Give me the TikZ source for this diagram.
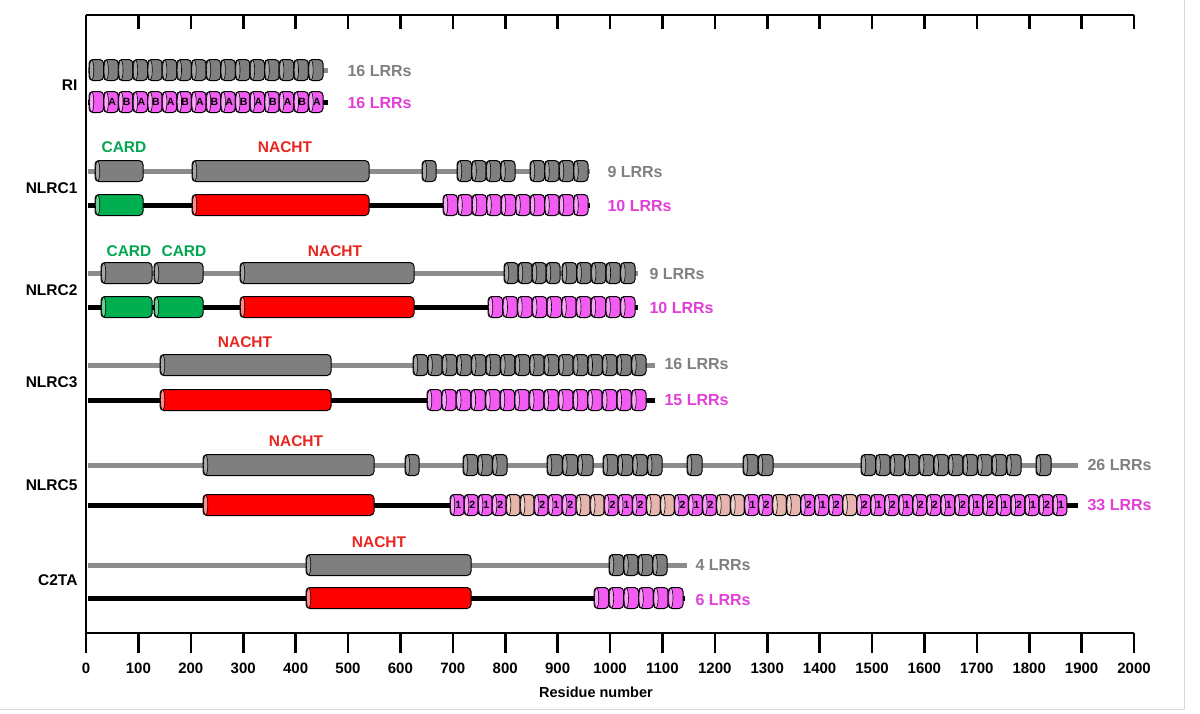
\documentclass[tikz,border=0pt]{standalone}
\usepackage{fontspec}
\setmainfont{Liberation Sans}
\definecolor{lg}{HTML}{7F7F7F}
\definecolor{lgcap}{HTML}{A6A6A6}
\definecolor{lgline}{HTML}{8C8C8C}
\definecolor{gtext}{HTML}{808080}
\definecolor{pk}{HTML}{F25CF2}
\definecolor{pkcap}{HTML}{F9A6F9}
\definecolor{ptext}{HTML}{E23FD8}
\definecolor{gr}{HTML}{00B050}
\definecolor{grcap}{HTML}{66D296}
\definecolor{gtx}{HTML}{00A650}
\definecolor{rd}{HTML}{FF0000}
\definecolor{rdcap}{HTML}{FF8A8A}
\definecolor{rtx}{HTML}{E8251F}
\definecolor{bg}{HTML}{E6B5AE}
\definecolor{bgcap}{HTML}{F2D4D0}
\newcommand\cyl[4]{%
  \filldraw[fill=#4,draw=black,line width=1pt,rounded corners=4pt] (#1,#3-10.5) rectangle (#2,#3+10.5);
  \filldraw[fill=#4cap,draw=black,line width=0.6pt] ({#1+2.6},#3) ellipse [x radius=2.2, y radius=10];
}
\newcommand\lrrs[5]{%
  \foreach \i in {1,...,#3}{%
    \pgfmathsetmacro\ua{#1+(\i-1)*(#2-#1)/#3}%
    \pgfmathsetmacro\ub{#1+\i*(#2-#1)/#3}%
    \cyl{\ua}{\ub}{#4}{#5}%
  }}
\tikzset{
  glineS/.style={line width=5pt,lgline},
  blineS/.style={line width=5pt,black},
  ftxt/.style={font=\bfseries\fontsize{15.5}{18}\selectfont},
  cntg/.style={font=\bfseries\fontsize{16}{18}\selectfont,text=gtext,anchor=west},
  cntp/.style={font=\bfseries\fontsize{16}{18}\selectfont,text=ptext,anchor=west},
  cardl/.style={ftxt,text=gtx},
  nachtl/.style={ftxt,text=rtx},
  protl/.style={ftxt,anchor=east},
  boxlab/.style={font=\bfseries\fontsize{10.5}{11}\selectfont,inner sep=0pt},
  ticklab/.style={font=\bfseries\fontsize{15}{18}\selectfont},
  axisS/.style={line width=2.6pt,black}
}
\begin{document}
\begin{tikzpicture}[x=1pt,y=-1pt]
\useasboundingbox (0,0) rectangle (1200,713);
\fill[white] (0,0) rectangle (1200,713);
\draw[black!15,line width=1pt] (1184,0) -- (1184,709) -- (0,709);

% frame / axis
\draw[axisS] (86,15) -- (1134,15);
\draw[axisS] (86,15) -- (86,653);
\draw[axisS] (86,633) -- (1134,633);
\foreach \v in {1,...,20}{
  \draw[axisS] ({86+52.4*\v},15) -- ({86+52.4*\v},29);
  \draw[axisS] ({86+52.4*\v},633) -- ({86+52.4*\v},653);
}
\foreach \v [count=\k] in {0,100,...,2000}{
  \node[ticklab] (t\k) at ({86+0.524*\v},668) {\v};
}
\node[font=\bfseries\fontsize{14.5}{16}\selectfont] (xlab) at (596,692) {Residue number};

% protein names
\node[protl] (pRI) at (81,85) {RI};
\node[protl] (pN1) at (81,188) {NLRC1};
\node[protl] (pN2) at (81,290) {NLRC2};
\node[protl] (pN3) at (81,382) {NLRC3};
\node[protl] (pN5) at (81,485) {NLRC5};
\node[protl] (pC2) at (81,580) {C2TA};

% ---------- RI ----------
\draw[glineS] (88,70) -- (328,70);
\lrrs{89}{323}{16}{70}{lg}
\draw[blineS] (88,102) -- (328,102);
\lrrs{89}{323}{16}{102}{pk}
\foreach \i in {2,...,16}{
  \node[boxlab] (ri\i) at ({89+(\i-0.5)*14.625+1.2},102) {\ifodd\i B\else A\fi};
}
\node[cntg] (c1) at (344,71) {16 LRRs};
\node[cntp] (c2) at (344,103) {16 LRRs};

% ---------- NLRC1 ----------
\draw[glineS] (88,171) -- (590,171);
\cyl{95}{143}{171}{lg}
\cyl{192}{369}{171}{lg}
\lrrs{422}{436}{1}{171}{lg}
\lrrs{457}{515}{4}{171}{lg}
\lrrs{530}{588}{4}{171}{lg}
\draw[blineS] (88,205) -- (590,205);
\cyl{95}{143}{205}{gr}
\cyl{192}{369}{205}{rd}
\lrrs{443}{588}{10}{205}{pk}
\node[cardl] (n1card) at (124,147) {CARD};
\node[nachtl] (n1nacht) at (285,147) {NACHT};
\node[cntg] (c3) at (604,172) {9 LRRs};
\node[cntp] (c4) at (604,206) {10 LRRs};

% ---------- NLRC2 ----------
\draw[glineS] (88,273) -- (638,273);
\cyl{101}{152}{273}{lg}
\cyl{154}{203}{273}{lg}
\cyl{240}{414}{273}{lg}
\lrrs{504}{560}{4}{273}{lg}
\lrrs{562}{635}{5}{273}{lg}
\draw[blineS] (88,307) -- (638,307);
\cyl{101}{152}{307}{gr}
\cyl{154}{203}{307}{gr}
\cyl{240}{414}{307}{rd}
\lrrs{488}{635}{10}{307}{pk}
\node[cardl] (n2card1) at (129,251) {CARD};
\node[cardl] (n2card2) at (184,251) {CARD};
\node[nachtl] (n2nacht) at (335,251) {NACHT};
\node[cntg] (c5) at (646,274) {9 LRRs};
\node[cntp] (c6) at (646,308) {10 LRRs};

% ---------- NLRC3 ----------
\draw[glineS] (88,365) -- (655,365);
\cyl{160}{331}{365}{lg}
\lrrs{413}{646}{16}{365}{lg}
\draw[blineS] (88,400) -- (655,400);
\cyl{160}{331}{400}{rd}
\lrrs{427}{646}{15}{400}{pk}
\node[nachtl] (n3nacht) at (245,342) {NACHT};
\node[cntg] (c7) at (661,364) {16 LRRs};
\node[cntp] (c8) at (661,400) {15 LRRs};

% ---------- NLRC5 ----------
\draw[glineS] (88,465) -- (1078,465);
\cyl{203}{374}{465}{lg}
\lrrs{405}{419}{1}{465}{lg}
\lrrs{463}{507}{3}{465}{lg}
\lrrs{547}{593}{3}{465}{lg}
\lrrs{603}{662}{4}{465}{lg}
\lrrs{687}{702}{1}{465}{lg}
\lrrs{743}{773}{2}{465}{lg}
\lrrs{861}{1021}{11}{465}{lg}
\lrrs{1036}{1051}{1}{465}{lg}
\draw[blineS] (88,505) -- (1078,505);
\cyl{203}{374}{505}{rd}
\foreach \t [count=\i] in {1,2,1,2,0,0,2,1,2,0,0,2,1,2,0,0,2,1,2,0,0,1,2,0,0,2,1,2,0,2,1,2,1,2,2,1,2,1,2,1,2,1,2,1}{
  \pgfmathsetmacro\ua{450+(\i-1)*14.02}
  \pgfmathsetmacro\ub{\ua+14.02}
  \ifnum\t=0
    \cyl{\ua}{\ub}{505}{bg}
  \else
    \cyl{\ua}{\ub}{505}{pk}
    \node[boxlab] (n5l\i) at ({(\ua+\ub)/2+1.2},505) {\t};
  \fi
}
\node[nachtl] (n5nacht) at (296,441) {NACHT};
\node[cntg] (c9) at (1084,465) {26 LRRs};
\node[cntp] (c10) at (1084,505) {33 LRRs};

% ---------- C2TA ----------
\draw[glineS] (88,565) -- (687,565);
\cyl{306}{471}{565}{lg}
\lrrs{609}{667}{4}{565}{lg}
\draw[blineS] (88,598) -- (685,598);
\cyl{306}{471}{598}{rd}
\lrrs{594}{683}{6}{598}{pk}
\node[nachtl] (c2nacht) at (379,542) {NACHT};
\node[cntg] (c11) at (692,565) {4 LRRs};
\node[cntp] (c12) at (692,600) {6 LRRs};
\end{tikzpicture}
\end{document}
